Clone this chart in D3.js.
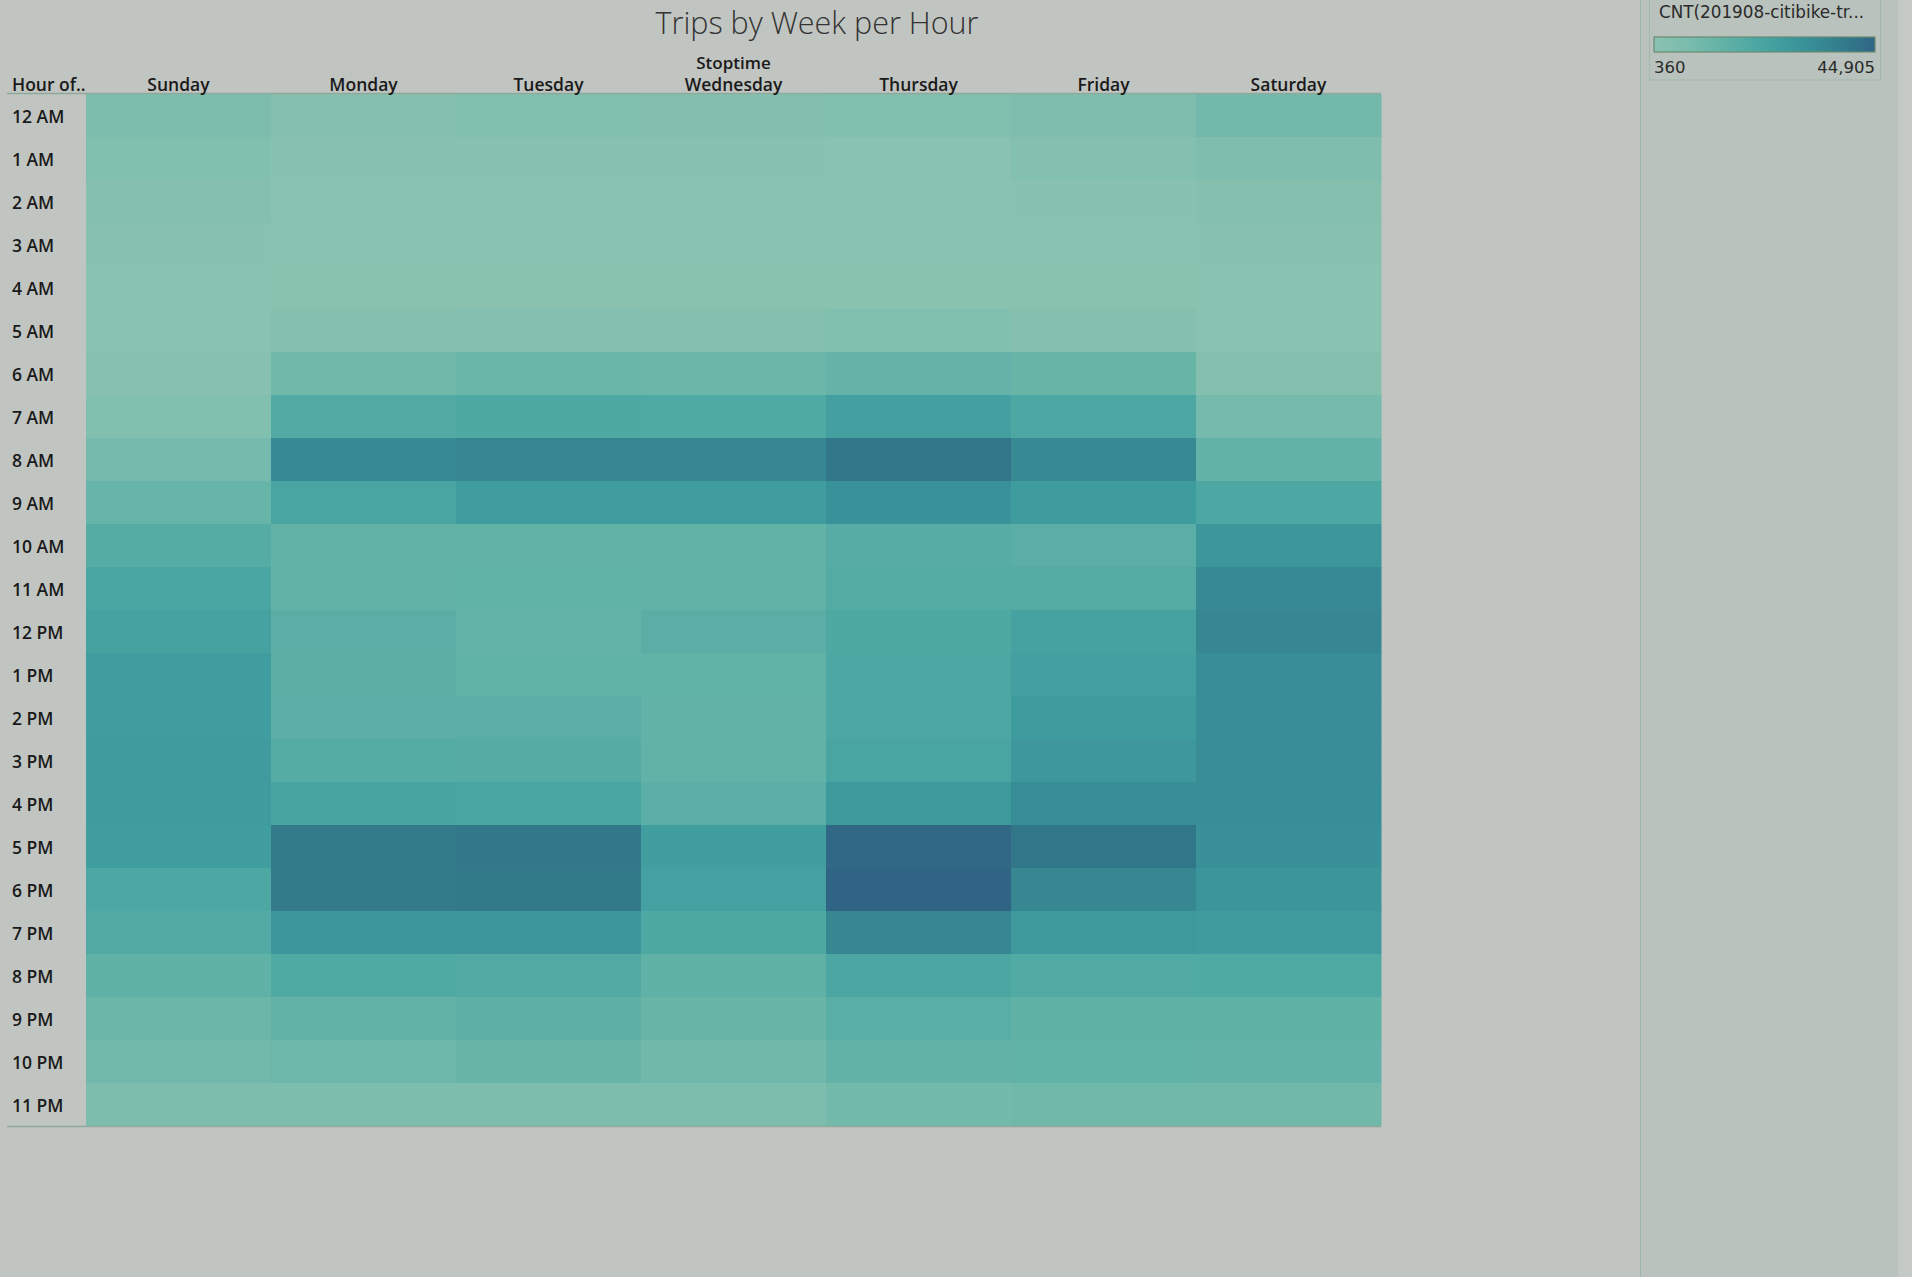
<!DOCTYPE html>
<html>
<head>
<meta charset="utf-8">
<script src="https://cdn.jsdelivr.net/npm/d3@7"></script>
<style>
  html, body { margin: 0; padding: 0; background: #c1c5c1; overflow: hidden; }
  svg { display: block; }
</style>
</head>
<body>
<svg id="chart" width="1912" height="1277"></svg>
<script>
// ---------- data ----------
const days = ["Sunday", "Monday", "Tuesday", "Wednesday", "Thursday", "Friday", "Saturday"];
const hours = ["12 AM", "1 AM", "2 AM", "3 AM", "4 AM", "5 AM", "6 AM", "7 AM", "8 AM", "9 AM", "10 AM", "11 AM",
               "12 PM", "1 PM", "2 PM", "3 PM", "4 PM", "5 PM", "6 PM", "7 PM", "8 PM", "9 PM", "10 PM", "11 PM"];
const sunday    = [6430, 4410, 2890, 1370, 870, 610, 1370, 4410, 8460, 13010, 18080, 21620, 23140, 25670, 25750, 26680, 26600, 25160, 20610, 19090, 15040, 11500, 9470, 5930];
const monday    = [2890, 1370, 870, 780, 520, 2890, 10480, 19090, 33260, 22130, 14030, 14100, 16560, 16480, 16050, 18080, 22630, 38830, 38900, 28710, 19600, 14030, 10990, 5930];
const tuesday   = [4410, 1310, 690, 640, 360, 2950, 12000, 20100, 34780, 25670, 14030, 14530, 13950, 14530, 16560, 18000, 22130, 39340, 39280, 28650, 19540, 15550, 12510, 5900];
const wednesday = [3900, 1340, 850, 700, 410, 2870, 11500, 19600, 34280, 25600, 14010, 14060, 16530, 14530, 14480, 13990, 16050, 25160, 23650, 20100, 15040, 12510, 10480, 5910];
const thursday  = [4380, 870, 820, 690, 470, 4410, 13520, 24150, 39840, 30730, 17570, 18580, 20100, 20610, 20550, 22130, 27190, 43890, 44905, 34280, 21110, 17060, 14030, 8970];
const friday    = [5420, 3400, 1370, 820, 560, 2890, 12510, 20610, 33770, 26180, 16560, 18580, 23140, 24150, 26180, 28200, 31740, 39840, 34280, 27190, 19090, 15040, 14530, 10480];
const saturday  = [9470, 5420, 2890, 1370, 870, 800, 2890, 8460, 14030, 20610, 28710, 33260, 34280, 32250, 32200, 32300, 31740, 31240, 29210, 26680, 19600, 15040, 14030, 10480];
const seriesByDay = [sunday, monday, tuesday, wednesday, thursday, friday, saturday];

const titleText = "Trips by Week per Hour";
const legendTitle = "CNT(201908-citibike-tr...";
const colorPalette = ["#8ac2b0", "#7fbeae", "#6fb8aa", "#5eb0a6", "#4da8a3", "#409d9f", "#399199", "#35838f", "#317488", "#306485"];
const palettePositions = [0, 0.1, 0.2, 0.3, 0.4, 0.5, 0.6, 0.7, 0.8, 0.88];

// ---------- build ----------
const cells = [];
days.forEach((d, i) => hours.forEach((h, j) => cells.push({ day: d, hour: h, value: seriesByDay[i][j] })));
const allVals = cells.map(c => c.value);
const vMin = d3.min(allVals), vMax = d3.max(allVals);

const lastPos = palettePositions[palettePositions.length - 1];
const color = d3.scaleLinear()
  .domain(palettePositions.map(p => vMin + (p / lastPos) * (vMax - vMin)))
  .range(colorPalette)
  .interpolate(d3.interpolateRgb)
  .clamp(true);

const svg = d3.select("#chart");
const FONT = "'Open Sans', Lato, sans-serif";
const LEGFONT = "'DejaVu Sans', 'Liberation Sans', sans-serif";

// right side panel
svg.append("rect").attr("x", 1640).attr("y", 0).attr("width", 272).attr("height", 1277).attr("fill", "#b9c2bc");
svg.append("rect").attr("x", 1898).attr("y", 0).attr("width", 14).attr("height", 1277).attr("fill", "#c4c9c5");
svg.append("line").attr("x1", 1640.5).attr("x2", 1640.5).attr("y1", 0).attr("y2", 1277)
  .attr("stroke", "#9cb7a9").attr("stroke-width", 1);

// heatmap geometry
const gLeft = 86, gRight = 1381, gTop = 94, gBottom = 1126;
const x = d3.scaleBand().domain(days).range([gLeft, gRight]).padding(0);
const y = d3.scaleBand().domain(hours).range([gTop, gBottom]).padding(0);

svg.append("g").selectAll("rect").data(cells).join("rect")
  .attr("x", d => x(d.day))
  .attr("y", d => y(d.hour))
  .attr("width", x.bandwidth() + 0.5)
  .attr("height", y.bandwidth() + 0.5)
  .attr("fill", d => color(d.value));

// borders
svg.append("line").attr("x1", 7).attr("x2", gRight).attr("y1", gTop - 0.5).attr("y2", gTop - 0.5)
  .attr("stroke", "#8fa99b").attr("stroke-width", 1.5);
svg.append("line").attr("x1", 7).attr("x2", gRight).attr("y1", gBottom + 0.5).attr("y2", gBottom + 0.5)
  .attr("stroke", "#8fa99b").attr("stroke-width", 1.5);

// title
svg.append("text").attr("x", 817).attr("y", 34).attr("text-anchor", "middle")
  .attr("font-family", FONT).attr("font-weight", 300).attr("font-size", 30.5).attr("fill", "#333")
  .text(titleText);

// column header axis
const xAxis = d3.axisTop(x).tickSize(0).tickPadding(0);
const gx = svg.append("g").attr("transform", `translate(0, 91)`).call(xAxis);
gx.select(".domain").remove();
gx.selectAll("text").attr("font-family", FONT).attr("font-weight", 600).attr("font-size", 17.5)
  .attr("fill", "#1a1a1a").attr("dy", 0);
svg.append("text").attr("x", x("Wednesday") + x.bandwidth() / 2).attr("y", 69).attr("text-anchor", "middle")
  .attr("font-family", FONT).attr("font-weight", 600).attr("font-size", 17).attr("fill", "#1a1a1a")
  .text("Stoptime");
svg.append("text").attr("x", 12).attr("y", 91)
  .attr("font-family", FONT).attr("font-weight", 600).attr("font-size", 17.5).attr("fill", "#1a1a1a")
  .text("Hour of..");

// row axis
const yAxis = d3.axisLeft(y).tickSize(0).tickPadding(0);
const gy = svg.append("g").attr("transform", `translate(${gLeft}, 1.5)`).call(yAxis);
gy.select(".domain").remove();
gy.selectAll("text").attr("text-anchor", "start").attr("x", 12 - gLeft)
  .attr("font-family", FONT).attr("font-weight", 600).attr("font-size", 17.5).attr("fill", "#1a1a1a");

// legend
svg.append("rect").attr("x", 1649.5).attr("y", -1).attr("width", 231).attr("height", 81)
  .attr("fill", "none").attr("stroke", "#a2b8ab");
svg.append("text").attr("x", 1659).attr("y", 18)
  .attr("font-family", LEGFONT).attr("font-size", 16.8).attr("fill", "#2a2a2a")
  .text(legendTitle);
const defs = svg.append("defs");
const grad = defs.append("linearGradient").attr("id", "lg").attr("x1", "0%").attr("x2", "100%");
const nStops = 20;
d3.range(nStops + 1).forEach(i => {
  const v = vMin + (vMax - vMin) * i / nStops;
  grad.append("stop").attr("offset", (100 * i / nStops) + "%").attr("stop-color", color(v));
});
const lx = d3.scaleLinear().domain([vMin, vMax]).range([1654, 1875]);
svg.append("rect").attr("x", lx(vMin)).attr("y", 37).attr("width", lx(vMax) - lx(vMin)).attr("height", 15)
  .attr("fill", "url(#lg)").attr("stroke", "#6b8a72").attr("stroke-width", 1.2);
svg.append("text").attr("x", lx(vMin)).attr("y", 73)
  .attr("font-family", LEGFONT).attr("font-size", 16.5).attr("fill", "#2a2a2a")
  .text(d3.format(",")(vMin));
svg.append("text").attr("x", lx(vMax)).attr("y", 73).attr("text-anchor", "end")
  .attr("font-family", LEGFONT).attr("font-size", 16.5).attr("fill", "#2a2a2a")
  .text(d3.format(",")(vMax));
</script>
</body>
</html>
